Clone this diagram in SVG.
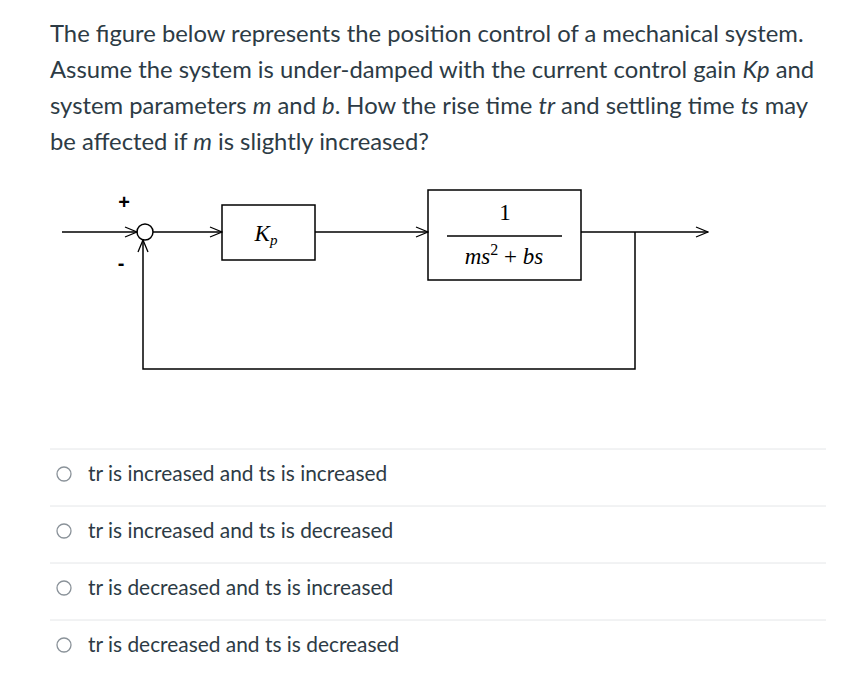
<svg xmlns="http://www.w3.org/2000/svg" width="862" height="681" viewBox="0 0 862 681">
<style>
.q{font-family:Lato,"Liberation Sans",sans-serif;font-size:23.8px;fill:#2d3b45}
.o{font-family:Lato,"Liberation Sans",sans-serif;font-size:20.9px;fill:#2d3b45}
.m{font-family:"Liberation Serif","DejaVu Serif",serif;font-size:23px;fill:#000}
.ln{stroke:#000;stroke-width:1.5;fill:none}
.sep{stroke:#e4e6e8;stroke-width:1}
.rad{fill:#fff;stroke:#8a9299;stroke-width:1.3}
</style>
<defs><marker id="a" markerWidth="14" markerHeight="12" refX="13" refY="6" orient="auto" markerUnits="userSpaceOnUse"><path d="M1,1 L13,6 L1,11" fill="none" stroke="#000" stroke-width="1.3"/></marker></defs>
<rect width="862" height="681" fill="#fff"/>
<g id="question">
<text class="q" x="50" y="42">The figure below represents the position control of a mechanical system.</text>
<text class="q" x="50" y="78">Assume the system is under-damped with the current control gain <tspan font-style="italic">Kp</tspan> and</text>
<text class="q" x="50" y="114">system parameters <tspan font-style="italic">m</tspan> and <tspan font-style="italic">b</tspan>. How the rise time <tspan font-style="italic">tr</tspan> and settling time <tspan font-style="italic">ts</tspan> may</text>
<text class="q" x="50" y="150">be affected if <tspan font-style="italic">m</tspan> is slightly increased?</text>
</g>
<g id="sum"><circle class="ln" cx="145" cy="232" r="8"/>
<text x="124" y="209" font-family="Liberation Sans,sans-serif" font-weight="bold" font-size="20" text-anchor="middle">+</text>
<text x="121" y="270" font-family="Liberation Sans,sans-serif" font-weight="bold" font-size="20" text-anchor="middle">-</text></g>
<g id="kp"><rect class="ln" x="222" y="205" width="93" height="55"/>
<text class="m" x="266" y="241" text-anchor="middle" font-style="italic">K<tspan font-size="15" dy="4">p</tspan></text></g>
<g id="plant"><rect class="ln" x="428" y="190" width="153" height="90"/>
<text class="m" x="505" y="220" text-anchor="middle">1</text>
<line class="ln" x1="447" y1="236" x2="562" y2="236"/>
<text class="m" x="504" y="264" text-anchor="middle" font-style="italic">ms<tspan font-style="normal" font-size="16" dy="-9">2</tspan><tspan font-style="normal" dy="9"> + </tspan>bs</text></g>
<g id="connectors">
<line class="ln" x1="62" y1="232" x2="137" y2="232" marker-end="url(#a)"/>
<line class="ln" x1="153" y1="232" x2="222" y2="232" marker-end="url(#a)"/>
<line class="ln" x1="315" y1="232" x2="428" y2="232" marker-end="url(#a)"/>
<line class="ln" x1="581" y1="232" x2="708" y2="232" marker-end="url(#a)"/>
<polyline class="ln" points="635,232 635,369 143,369 143,240" marker-end="url(#a)"/>
</g>
<g id="options">
<line class="sep" x1="50" y1="449" x2="826" y2="449"/>
<line class="sep" x1="50" y1="506" x2="826" y2="506"/>
<line class="sep" x1="50" y1="563" x2="826" y2="563"/>
<line class="sep" x1="50" y1="620" x2="826" y2="620"/>
<circle class="rad" cx="64" cy="474" r="7"/><text class="o" x="88" y="481">tr is increased and ts is increased</text>
<circle class="rad" cx="64" cy="531" r="7"/><text class="o" x="88" y="538">tr is increased and ts is decreased</text>
<circle class="rad" cx="64" cy="588" r="7"/><text class="o" x="88" y="595">tr is decreased and ts is increased</text>
<circle class="rad" cx="64" cy="645" r="7"/><text class="o" x="88" y="652">tr is decreased and ts is decreased</text>
</g>
</svg>
